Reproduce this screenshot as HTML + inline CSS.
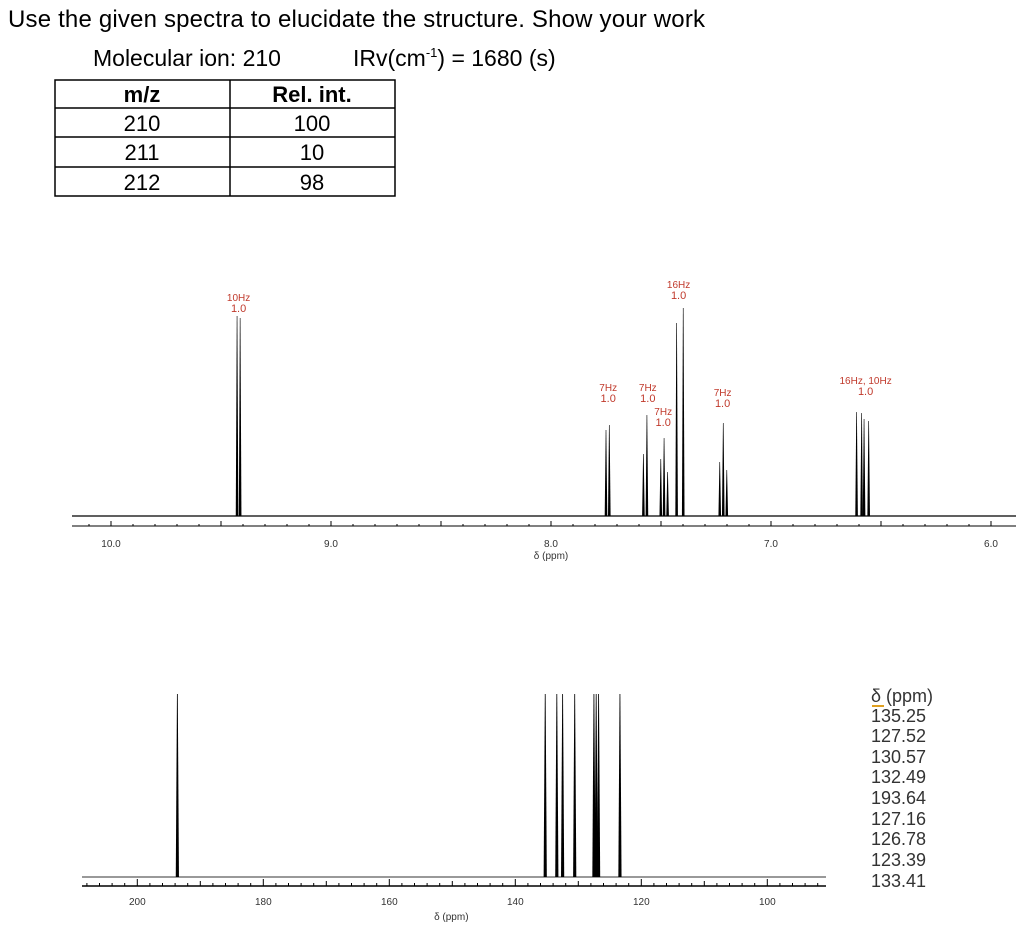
<!DOCTYPE html>
<html><head><meta charset="utf-8"><style>
body{margin:0;background:#fff;width:1024px;height:928px;overflow:hidden;font-family:"Liberation Sans",Arial,sans-serif;}
svg{position:absolute;left:0;top:0}
</style></head><body>
<svg width="1024" height="928" id="s">
<text x="8" y="27" font-size="24" textLength="697">Use the given spectra to elucidate the structure. Show your work</text>
<text x="93" y="66" font-size="23">Molecular ion: 210</text>
<text x="353" y="66" font-size="23">IRv(cm<tspan dy="-9" font-size="13">-1</tspan><tspan dy="9">) = 1680 (s)</tspan></text>
<g stroke="#000" stroke-width="1.5" fill="none">
<rect x="55" y="80" width="340" height="116"/>
<line x1="230" y1="80" x2="230" y2="196"/>
<line x1="55" y1="108" x2="395" y2="108"/>
<line x1="55" y1="137" x2="395" y2="137"/>
<line x1="55" y1="167" x2="395" y2="167"/>
</g>
<g font-size="22" text-anchor="middle">
<text x="142" y="102" font-weight="bold">m/z</text><text x="312" y="102" font-weight="bold">Rel. int.</text>
<text x="142" y="131">210</text><text x="312" y="131">100</text>
<text x="142" y="160">211</text><text x="312" y="160">10</text>
<text x="142" y="190">212</text><text x="312" y="190">98</text>
</g>
<g id="h"></g>
<g id="c"></g>
<g font-size="18" fill="#333">
<text x="871" y="702">δ (ppm)</text>
<line x1="872" y1="706" x2="884" y2="706" stroke="#e0a020" stroke-width="2"/>
<text x="871" y="722">135.25</text><text x="871" y="742">127.52</text><text x="871" y="763">130.57</text>
<text x="871" y="783">132.49</text><text x="871" y="804">193.64</text><text x="871" y="825">127.16</text>
<text x="871" y="845">126.78</text><text x="871" y="866">123.39</text><text x="871" y="887">133.41</text>
</g>
</svg>
<script>
// 1H data (ppm, relative height in px above baseline)
const hShifts=[9.427,9.413,7.750,7.735,7.580,7.564,7.501,7.486,7.470,7.429,7.399,7.233,7.217,7.201,6.611,6.588,6.577,6.556];
const hHeights=[200,198,86,91,62,101,57,78,44,193,208,54,93,46,104,103,97,95];
const hTicks=["10.0","9.0","8.0","7.0","6.0"];
const hLabels=[["10Hz","1.0",9.42,301],["16Hz","1.0",7.42,288],["7Hz","1.0",7.74,391],["7Hz","1.0",7.56,391],["7Hz","1.0",7.49,415],["7Hz","1.0",7.22,396],["16Hz, 10Hz","1.0",6.57,384]];
// 13C data
const cShifts=[135.25,127.52,130.57,132.49,193.64,127.16,126.78,123.39,133.41];
const cHeights=[183,183,183,183,183,183,183,183,183];
const cTicks=["200","180","160","140","120","100"];

const NS='http://www.w3.org/2000/svg';
function mk(p,t,a){const e=document.createElementNS(NS,t);for(const k in a)e.setAttribute(k,a[k]);p.appendChild(e);return e;}
const hx=p=>111+(10-p)*220, cx=p=>137.3+(200-p)*6.3;
const H=document.getElementById('h'),C=document.getElementById('c');

let b=mk(H,'line',{x1:72,y1:516,x2:1016,y2:516,stroke:'#000','stroke-width':1.2});

let ax=mk(H,'line',{x1:72,y1:526,x2:1016,y2:526,stroke:'#000','stroke-width':1});

for(let i=0;i<=41;i++){const p=10.1-i*0.1;const x=hx(p);const maj=Math.abs(p*2-Math.round(p*2))<1e-6;
 mk(H,'line',{x1:x,y1:maj?521:524,x2:x,y2:526,stroke:'#000','stroke-width':1});}
hTicks.forEach(t=>{const e=mk(H,'text',{x:hx(+t),y:547,'font-size':10,'text-anchor':'middle',fill:'#333'});e.textContent=t;
 });
let hl=mk(H,'text',{x:hx(8),y:559,'font-size':10,'text-anchor':'middle',fill:'#333'});hl.textContent='δ (ppm)';

hShifts.forEach((p,i)=>{const x=hx(p),top=516-hHeights[i];
 const e=mk(H,'path',{d:`M${x-1.3},516 L${x-0.3},${top} L${x+0.3},${top} L${x+1.3},516Z`,fill:'#000'});
 });
hLabels.forEach(l=>{const x=hx(l[2]);
 const a=mk(H,'text',{x:x,y:l[3],'font-size':10,'text-anchor':'middle',fill:'#c0392b'});a.textContent=l[0];
 
 const c=mk(H,'text',{x:x,y:l[3]+11,'font-size':11,'text-anchor':'middle',fill:'#c0392b'});c.textContent=l[1];
 });

let cb=mk(C,'line',{x1:82,y1:877,x2:826,y2:877,stroke:'#333','stroke-width':1});

let ca=mk(C,'line',{x1:82,y1:886,x2:826,y2:886,stroke:'#000','stroke-width':1.5});

for(let p=208;p>=90;p-=2){const x=cx(p);if(x<82||x>826)continue;const maj=p%20==0,mid=p%10==0;
 mk(C,'line',{x1:x,y1:maj?879:(mid?881:883),x2:x,y2:886,stroke:'#000','stroke-width':1});}
cTicks.forEach(t=>{const e=mk(C,'text',{x:cx(+t),y:905,'font-size':10,'text-anchor':'middle',fill:'#333'});e.textContent=t;
 });
let cl=mk(C,'text',{x:cx(160)+62,y:920,'font-size':10,'text-anchor':'middle',fill:'#333'});cl.textContent='δ (ppm)';

cShifts.forEach((p,i)=>{const x=cx(p),top=877-cHeights[i];
 const e=mk(C,'path',{d:`M${x-1.6},877 L${x-0.4},${top} L${x+0.4},${top} L${x+1.6},877Z`,fill:'#000'});
 });
</script>
</body></html>
